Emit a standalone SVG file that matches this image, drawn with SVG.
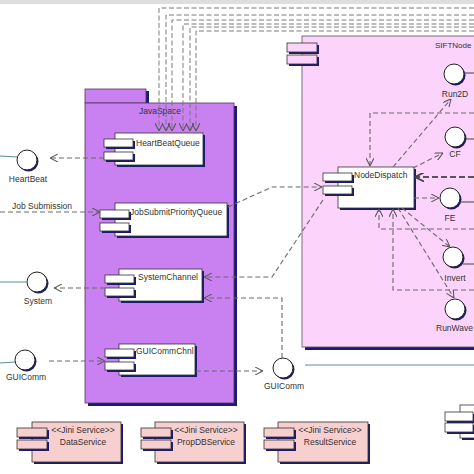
<svg xmlns="http://www.w3.org/2000/svg" width="474" height="474" viewBox="0 0 474 474">
<defs>
<style>
.t{font-family:"Liberation Sans",Arial,sans-serif;font-size:8.5px;fill:#333}
.tc{font-family:"Liberation Sans",Arial,sans-serif;font-size:8.5px;fill:#333;text-anchor:middle}
.sh{fill:#1c1c6e}
.box{fill:#fff;stroke:#333;stroke-width:0.8}
.jini{fill:#f8cfcf;stroke:#333;stroke-width:0.8}
.dash{fill:none;stroke:#6a6a6a;stroke-width:1.1;stroke-dasharray:5,3}
.dtop{fill:none;stroke:#7a7a7a;stroke-width:1;stroke-dasharray:5,2.5}
.heavy{fill:none;stroke:#555;stroke-width:1.8;stroke-dasharray:6,3}
.sol{fill:none;stroke:#5a8c8c;stroke-width:1}
.sold{fill:none;stroke:#444;stroke-width:1}
.ci{fill:#fff;stroke:#222;stroke-width:1}
</style>
<marker id="a" viewBox="0 0 10 10" refX="10" refY="5" markerWidth="8" markerHeight="8" markerUnits="userSpaceOnUse" orient="auto">
<path d="M0,0 L10,5 L0,10" fill="none" stroke="#555" stroke-width="1.3"/>
</marker>
<marker id="ah" viewBox="0 0 10 10" refX="10" refY="5" markerWidth="9" markerHeight="9" markerUnits="userSpaceOnUse" orient="auto">
<path d="M0,0 L10,5 L0,10" fill="none" stroke="#444" stroke-width="2"/>
</marker>
</defs>
<rect x="0" y="0" width="474" height="474" fill="#fff"/>
<rect x="0" y="0" width="474" height="4" fill="#dedede"/>

<g id="SIFTNode">
<rect class="sh" x="305" y="39" width="180" height="311"/>
<rect x="302" y="36" width="180" height="311" fill="#fbd3fb" stroke="#555" stroke-width="0.8"/>
<rect class="sh" x="289" y="45" width="30" height="9"/>
<rect x="287" y="43" width="30" height="9" fill="#fbd3fb" stroke="#333" stroke-width="0.8"/>
<rect class="sh" x="289" y="57" width="30" height="9"/>
<rect x="287" y="55" width="30" height="9" fill="#fbd3fb" stroke="#333" stroke-width="0.8"/>
<text class="t" x="435" y="48" style="font-size:8px">SIFTNode</text>
</g>

<g id="JavaSpace">
<rect class="sh" x="88" y="91" width="61" height="12"/>
<rect x="85" y="89" width="61" height="14" fill="#c980f0" stroke="#553366" stroke-width="0.8"/>
<rect class="sh" x="88" y="106" width="149" height="300"/>
<rect x="85" y="103" width="149" height="300" fill="#c980f0" stroke="#553366" stroke-width="0.8"/>
<text class="t" x="139" y="114">JavaSpace</text>
</g>

<g id="HeartBeatQueue">
<rect class="sh" x="117" y="135" width="88" height="32"/>
<rect class="box" x="115" y="133" width="88" height="32"/>
<rect class="sh" x="106" y="141" width="29" height="8"/>
<rect class="box" x="104" y="139" width="29" height="8"/>
<rect class="sh" x="106" y="154" width="29" height="8"/>
<rect class="box" x="104" y="152" width="29" height="8"/>
<text class="t" x="136" y="146">HeartBeatQueue</text>
</g>

<g id="JobSubmitPriorityQueue">
<rect class="sh" x="117" y="205" width="112" height="33"/>
<rect class="box" x="115" y="203" width="112" height="33"/>
<rect class="sh" x="102" y="212" width="29" height="8"/>
<rect class="box" x="100" y="210" width="29" height="8"/>
<rect class="sh" x="102" y="225" width="29" height="8"/>
<rect class="box" x="100" y="223" width="29" height="8"/>
<text class="t" x="130" y="215">JobSubmitPriorityQueue</text>
</g>

<g id="SystemChannel">
<rect class="sh" x="121" y="271" width="83" height="32"/>
<rect class="box" x="119" y="269" width="83" height="32"/>
<rect class="sh" x="107" y="277" width="29" height="8"/>
<rect class="box" x="105" y="275" width="29" height="8"/>
<rect class="sh" x="107" y="290" width="29" height="8"/>
<rect class="box" x="105" y="288" width="29" height="8"/>
<text class="t" x="138" y="280">SystemChannel</text>
</g>

<g id="GUICommChnl">
<rect class="sh" x="121" y="346" width="76" height="31"/>
<rect class="box" x="119" y="344" width="76" height="31"/>
<rect class="sh" x="107" y="351" width="29" height="8"/>
<rect class="box" x="105" y="349" width="29" height="8"/>
<rect class="sh" x="107" y="364" width="29" height="8"/>
<rect class="box" x="105" y="362" width="29" height="8"/>
<text class="t" x="136" y="354">GUICommChnl</text>
</g>

<g id="NodeDispatch">
<rect class="sh" x="340" y="169" width="76" height="41"/>
<rect class="box" x="338" y="167" width="76" height="41"/>
<rect class="sh" x="325" y="175" width="29" height="8"/>
<rect class="box" x="323" y="173" width="29" height="8"/>
<rect class="sh" x="325" y="188" width="29" height="8"/>
<rect class="box" x="323" y="186" width="29" height="8"/>
<text class="t" x="354" y="178">NodeDispatch</text>
</g>

<g id="DataService">
<rect class="sh" x="34" y="424" width="89" height="40"/>
<rect class="jini" x="32" y="422" width="89" height="40"/>
<rect class="sh" x="19" y="430" width="30" height="9"/>
<rect class="jini" x="17" y="428" width="30" height="9"/>
<rect class="sh" x="19" y="442" width="30" height="9"/>
<rect class="jini" x="17" y="440" width="30" height="9"/>
<text class="tc" x="83" y="433">&lt;&lt;Jini Service&gt;&gt;</text>
<text class="tc" x="83" y="445">DataService</text>
</g>

<g id="PropDBService">
<rect class="sh" x="157" y="424" width="89" height="40"/>
<rect class="jini" x="155" y="422" width="89" height="40"/>
<rect class="sh" x="143" y="430" width="30" height="9"/>
<rect class="jini" x="141" y="428" width="30" height="9"/>
<rect class="sh" x="143" y="442" width="30" height="9"/>
<rect class="jini" x="141" y="440" width="30" height="9"/>
<text class="tc" x="206" y="433">&lt;&lt;Jini Service&gt;&gt;</text>
<text class="tc" x="206" y="445">PropDBService</text>
</g>

<g id="ResultService">
<rect class="sh" x="280" y="424" width="90" height="40"/>
<rect class="jini" x="278" y="422" width="90" height="40"/>
<rect class="sh" x="266" y="430" width="30" height="9"/>
<rect class="jini" x="264" y="428" width="30" height="9"/>
<rect class="sh" x="266" y="442" width="30" height="9"/>
<rect class="jini" x="264" y="440" width="30" height="9"/>
<text class="tc" x="330" y="433">&lt;&lt;Jini Service&gt;&gt;</text>
<text class="tc" x="330" y="445">ResultService</text>
</g>

<g id="PartialComponent">
<rect class="sh" x="462" y="407" width="20" height="33"/>
<rect class="box" x="460" y="405" width="20" height="33"/>
<rect class="sh" x="447" y="414" width="28" height="9"/>
<rect class="box" x="445" y="412" width="28" height="9"/>
<rect class="sh" x="447" y="425" width="28" height="9"/>
<rect class="box" x="445" y="423" width="28" height="9"/>
</g>

<g id="HeartBeat">
<circle class="sh" cx="28.5" cy="161.5" r="10"/>
<circle class="ci" cx="27" cy="160" r="10"/>
<text class="tc" x="28" y="182">HeartBeat</text>
</g>
<g id="System">
<circle class="sh" cx="38.5" cy="283.5" r="10"/>
<circle class="ci" cx="37" cy="282" r="10"/>
<text class="tc" x="38" y="304">System</text>
</g>
<g id="GUICommLeft">
<circle class="sh" cx="26.5" cy="361.5" r="10"/>
<circle class="ci" cx="25" cy="360" r="10"/>
<text class="tc" x="26" y="380">GUIComm</text>
</g>
<g id="GUICommRight">
<circle class="sh" cx="284.5" cy="369.5" r="10"/>
<circle class="ci" cx="283" cy="368" r="10"/>
<text class="tc" x="284" y="389">GUIComm</text>
</g>
<g id="Run2D">
<circle class="sh" cx="455.5" cy="75.5" r="10"/>
<circle class="ci" cx="454" cy="74" r="10"/>
<text class="tc" x="455" y="97">Run2D</text>
</g>
<g id="CF">
<circle class="sh" cx="456.5" cy="138.5" r="10"/>
<circle class="ci" cx="455" cy="137" r="10"/>
<text class="tc" x="455" y="157">CF</text>
</g>
<g id="FE">
<circle class="sh" cx="451.5" cy="199.5" r="10"/>
<circle class="ci" cx="450" cy="198" r="10"/>
<text class="tc" x="450" y="221">FE</text>
</g>
<g id="Invert">
<circle class="sh" cx="454.5" cy="258.5" r="10"/>
<circle class="ci" cx="453" cy="257" r="10"/>
<text class="tc" x="455" y="281">Invert</text>
</g>
<g id="RunWave">
<circle class="sh" cx="456.5" cy="310.5" r="10"/>
<circle class="ci" cx="455" cy="309" r="10"/>
<text class="t" x="436" y="331">RunWave</text>
</g>

<g id="connectors">
<path class="dtop" d="M474,8 L159,8 L159,131" marker-end="url(#a)"/>
<path class="dtop" d="M474,15 L166,15 L166,131" marker-end="url(#a)"/>
<path class="dtop" d="M474,20 L172,20 L172,131" marker-end="url(#a)"/>
<path class="dtop" d="M474,24 L183,24 L183,131" marker-end="url(#a)"/>
<path class="dtop" d="M474,27 L190,27 L190,131" marker-end="url(#a)"/>
<path class="dtop" d="M474,31 L196,31 L196,131" marker-end="url(#a)"/>

<path class="dash" d="M104,158 L50,158" marker-end="url(#a)"/>
<path class="dash" d="M0,212 L100,212" marker-end="url(#a)"/>
<text class="t" x="12" y="209">Job Submission</text>
<path class="dash" d="M105,288 L54,288" marker-end="url(#a)"/>
<path class="dash" d="M49,361 L105,361" marker-end="url(#a)"/>

<path class="dash" d="M228,207 L272,187 L322,187" marker-end="url(#a)"/>
<path class="dash" d="M323,200 L272,277 L204,277" marker-end="url(#a)"/>
<path class="dash" d="M282,358 L282,298 L204,298" marker-end="url(#a)"/>
<path class="dash" d="M196,371 L263,371" marker-end="url(#a)"/>

<path class="dash" d="M474,113 L370,113 L370,166" marker-end="url(#a)"/>
<path class="dash" d="M393,167 L451,99" marker-end="url(#a)"/>
<path class="dash" d="M413,168 L443,153" marker-end="url(#a)"/>
<path class="heavy" d="M474,177 L415,177" marker-end="url(#ah)"/>
<path class="dash" d="M414,198 L439,198" marker-end="url(#a)"/>
<path class="dash" d="M474,229 L379,229 L379,209" marker-end="url(#a)"/>
<path class="dash" d="M474,290 L393,290 L393,209" marker-end="url(#a)"/>
<path class="dash" d="M402,208 L450,247" marker-end="url(#a)"/>
<path class="dash" d="M398,208 L454,298" marker-end="url(#a)"/>

<path class="sol" d="M0,156 L17,157"/>
<path class="sol" d="M0,282 L27,282"/>
<path class="sol" d="M0,363 L15,362"/>
<path class="sol" d="M305,365 L474,365"/>
<path class="sold" d="M464,73 L474,73"/>
<path class="sold" d="M465,139 L474,139"/>
<path class="sold" d="M460,202 L474,202"/>
<path class="sold" d="M463,264 L474,264"/>
</g>
</svg>
